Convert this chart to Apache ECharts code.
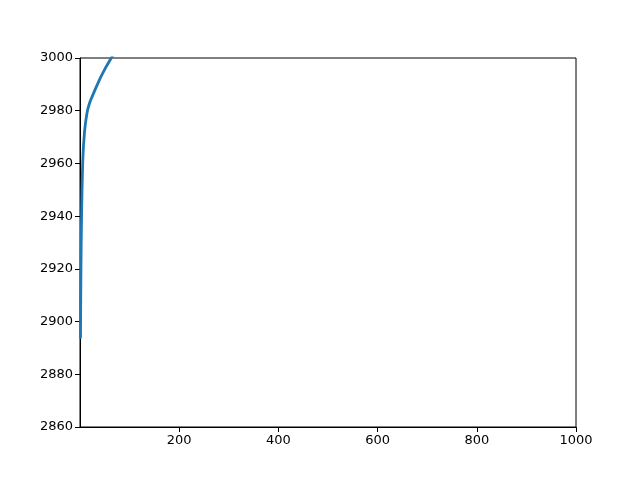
<!DOCTYPE html>
<html>
<head>
<meta charset="utf-8">
<script src="https://cdn.jsdelivr.net/npm/echarts@6/dist/echarts.min.js"></script>
<style>html,body{margin:0;padding:0;background:#fff;}#c{width:640px;height:480px;}</style>
</head>
<body>
<div id="c"></div>
<script>
const xValues = [1, 1.5, 2, 2.5, 3, 3.5, 4, 4.7, 5.4, 6.2, 7, 8.2, 9.4, 10.7, 12, 13.5, 15, 17.5, 20, 23, 26, 30, 34, 38.5, 43, 48, 53, 58, 63, 69, 75];
const yValues = [2894, 2910, 2922, 2931, 2938, 2944, 2949, 2955, 2960, 2963.5, 2966.5, 2969.7, 2972.5, 2974.7, 2976.6, 2978.4, 2980, 2981.8, 2983.3, 2984.7, 2986, 2987.8, 2989.5, 2991.4, 2993.2, 2995, 2996.8, 2998.4, 3000, 3001.8, 3003.6];
const xTicks = [200, 400, 600, 800, 1000];
const yTicks = [2860, 2880, 2900, 2920, 2940, 2960, 2980, 3000];

const data = xValues.map((x, i) => [x, yValues[i]]);
const chart = echarts.init(document.getElementById('c'));
const font = 'DejaVu Sans';
chart.setOption({
  animation: false,
  backgroundColor: '#fff',
  grid: { left: 80, right: 64, top: 58, bottom: 53, show: true, borderColor: '#000', borderWidth: 1, backgroundColor: 'transparent' },
  xAxis: {
    type: 'value', min: 0, max: 1000, interval: 200,
    axisLine: { show: true, onZero: false, lineStyle: { color: '#000', width: 1 } },
    axisTick: { show: true, length: 5, customValues: xTicks, lineStyle: { color: '#000' } },
    axisLabel: { color: '#000', fontSize: 13, fontFamily: font, margin: 7,
      formatter: v => (xTicks.indexOf(v) >= 0 ? String(v) : '') },
    splitLine: { show: false }
  },
  yAxis: {
    type: 'value', min: 2860, max: 3000, interval: 20,
    axisLine: { show: true, onZero: false, lineStyle: { color: '#000', width: 1 } },
    axisTick: { show: true, length: 5, lineStyle: { color: '#000' } },
    axisLabel: { color: '#000', fontSize: 13, fontFamily: font, margin: 7,
      formatter: v => (yTicks.indexOf(v) >= 0 ? String(v) : '') },
    splitLine: { show: false }
  },
  series: [{
    type: 'line', data: data, smooth: false, showSymbol: false, clip: true,
    lineStyle: { color: '#1f77b4', width: 2.8, join: 'round', cap: 'round' }
  }]
});
</script>
</body>
</html>
